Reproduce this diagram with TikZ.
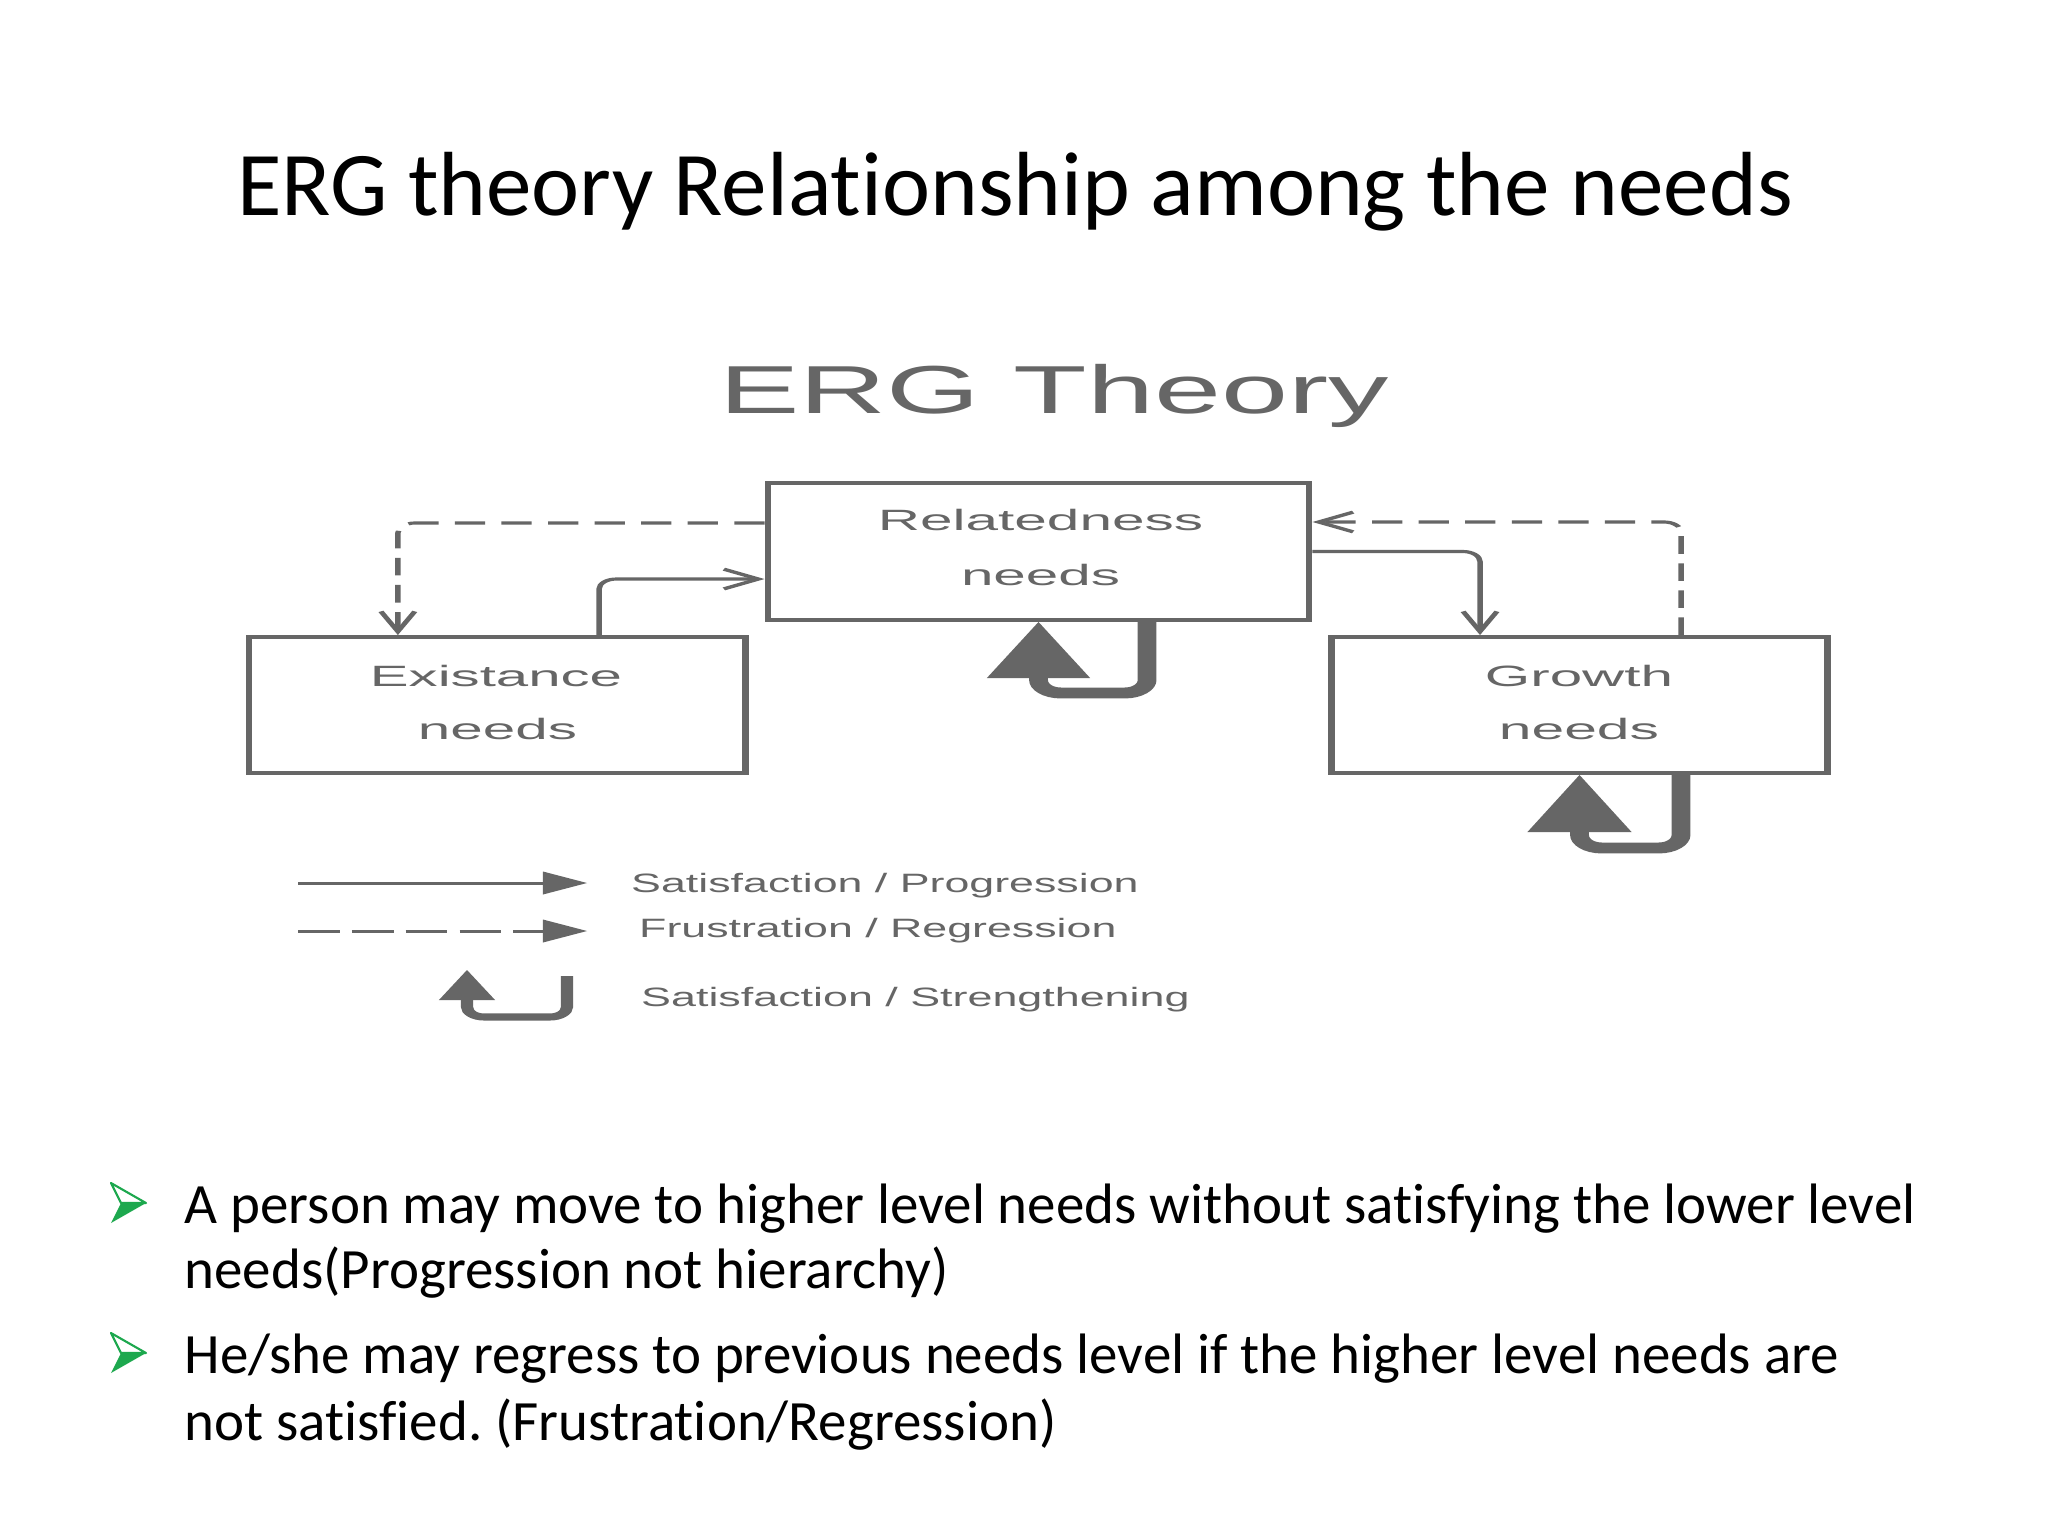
\documentclass[tikz,border=0pt]{standalone}
\usepackage{fontspec}
\setmainfont{Carlito}[Ligatures={NoCommon}]
\newfontfamily\dfont{Liberation Sans}
\usetikzlibrary{arrows.meta}
\definecolor{dgray}{HTML}{666666}
\definecolor{bgreen}{HTML}{1DA84E}
\frenchspacing
\begin{document}
\begin{tikzpicture}[x=0.01cm,y=-0.01cm,
  boxn/.style={draw=dgray, line width=1.1pt, inner sep=0pt, minimum width=2.884cm, minimum height=1.36cm},
  sconn/.style={draw=dgray, line width=0.9pt, rounded corners=0.1cm, -{Straight Barb[length=5.7pt,width=5.6pt]}},
  dconn/.style={sconn, dash pattern=on 5pt off 2.7pt},
  selfloop/.style={draw=dgray, line width=3.1pt, rounded corners=0.13cm},
  dtext/.style={font=\dfont\fontsize{8.35}{10}\selectfont, text=dgray, inner sep=0pt, anchor=base},
  ltext/.style={font=\dfont\fontsize{7.55}{9}\selectfont, text=dgray, inner sep=0pt, anchor=base west},
  bodytext/.style={font=\fontsize{16.2}{19}\selectfont, inner sep=0pt, anchor=base west},
  pics/greenarrow/.style={code={
    \filldraw[draw=bgreen, fill=white, line width=0.6pt, line join=round] (-17.5,-20)--(17.5,0)--(-7.5,0)--cycle;
    \fill[bgreen] (-7.5,0)--(17.5,0)--(-17.5,20)--cycle;
  }}
]
\useasboundingbox (0,0) rectangle (2048,1536);
\fill[white] (0,0) rectangle (2048,1536);

% slide title
\node[font=\fontsize{25.9}{30}\selectfont, inner sep=0pt, anchor=base] (title) at (1015,215) {ERG theory Relationship among the needs};

% diagram (horizontally stretched like the reference image)
\begin{scope}[transform canvas={xscale=1.72}]
  \node[dtext, font=\dfont\fontsize{19.3}{22}\selectfont] (ergt) at (1054/1.72,413) {\resizebox{3.89cm}{\height}{ERG Theory}};

  \node[boxn, minimum width=3.145cm, minimum height=1.37cm] (R) at (1038.5/1.72,551.5) {};
  \node[boxn] (E) at (497/1.72,705) {};
  \node[boxn] (G) at (1579.5/1.72,705) {};

  \node[dtext] (Rt1) at (1040.5/1.72,530) {\resizebox{1.89cm}{\height}{Relatedness}};
  \node[dtext] (Rt2) at (1040.5/1.72,585) {\resizebox{0.924cm}{\height}{needs}};
  \node[dtext] (Et1) at (496/1.72,686) {\resizebox{1.465cm}{\height}{Existance}};
  \node[dtext] (Et2) at (497.5/1.72,739) {\resizebox{0.924cm}{\height}{needs}};
  \node[dtext] (Gt1) at (1579/1.72,686) {\resizebox{1.093cm}{\height}{Growth}};
  \node[dtext] (Gt2) at (1579/1.72,739) {\resizebox{0.93cm}{\height}{needs}};

  % connectors
  \draw[dconn] ([yshift=0.285cm]R.west) -| ([xshift=-0.576cm]E.north);
  \draw[sconn] ([xshift=0.593cm]E.north) |- ([yshift=-0.275cm]R.west);
  \draw[sconn] (R.east) -| ([xshift=-0.578cm]G.north);
  \draw[dconn] ([xshift=0.590cm]G.north) |- ([yshift=0.295cm]R.east);

  % self loops
  \draw[selfloop, -{Triangle[length=0.56cm,width=0.6cm,line width=0pt]}] ([xshift=0.631cm]R.south) -- ++(0,71) -| (R.south);
  \draw[selfloop, -{Triangle[length=0.57cm,width=0.605cm,line width=0pt]}] ([xshift=0.590cm]G.south) -- ++(0,73) -| (G.south);

  % legend
  \coordinate (l1a) at (298/1.72,883);
  \coordinate (l1b) at (587/1.72,883);
  \coordinate (l2a) at (298/1.72,931);
  \coordinate (l2b) at (587/1.72,931);
  \draw[draw=dgray, line width=0.85pt, -{Triangle[length=0.256cm,width=0.23cm,line width=0pt]}] (l1a) -- (l1b);
  \draw[draw=dgray, line width=0.85pt, dash pattern=on 6.9pt off 2pt, -{Triangle[length=0.256cm,width=0.23cm,line width=0pt]}] (l2a) -- (l2b);
  \coordinate (l3a) at (567/1.72,976);
  \coordinate (l3b) at (467/1.72,970);
  \draw[draw=dgray, line width=2pt, rounded corners=0.1cm, -{Triangle[length=0.3cm,width=0.326cm,line width=0pt]}] (l3a) -- ++(0,41) -| (l3b);

  \node[ltext] (lt1) at (630/1.72,892) {\resizebox{2.948cm}{\height}{Satisfaction / Progression}};
  \node[ltext] (lt2) at (638/1.72,937) {\resizebox{2.773cm}{\height}{Frustration / Regression}};
  \node[ltext] (lt3) at (640/1.72,1006) {\resizebox{3.186cm}{\height}{Satisfaction / Strengthening}};
\end{scope}

% bullets
\pic at (128.5,1203) {greenarrow};
\pic at (128.5,1353) {greenarrow};
\node[bodytext] (b1a) at (184,1223) {A person may move to higher level needs without satisfying the lower level};
\node[bodytext] (b1b) at (184,1288) {needs(Progression not hierarchy)};
\node[bodytext] (b2a) at (184,1373) {He/she may regress to previous needs level if the higher level needs are};
\node[bodytext] (b2b) at (184,1440) {not satisfied. (Frustration/Regression)};
\end{tikzpicture}
\end{document}
